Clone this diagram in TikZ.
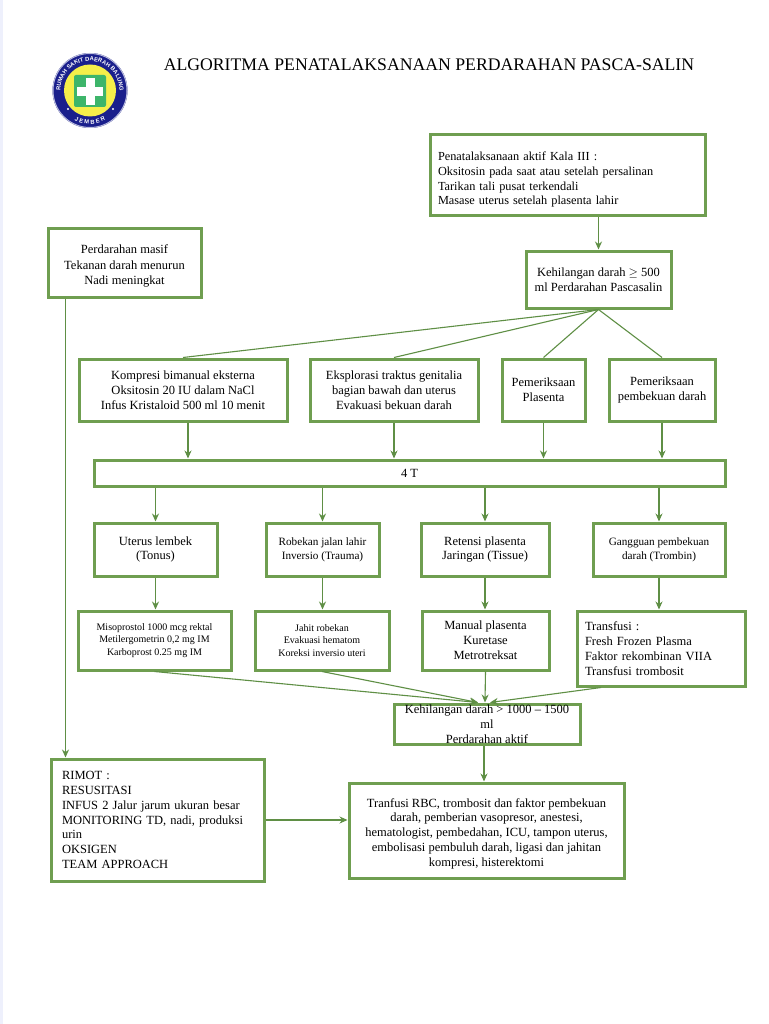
\documentclass[tikz,border=0pt]{standalone}
\usepackage{fontspec}
\setmainfont{Liberation Serif}
\newfontfamily\logofont{Liberation Sans}
\usetikzlibrary{arrows.meta,decorations.text}
\definecolor{boxgreen}{HTML}{6F9E50}
\definecolor{arrowgreen}{HTML}{5F8F45}
\definecolor{logoblue}{HTML}{1A1F8C}
\definecolor{logoyellow}{HTML}{F5EE4A}
\definecolor{logogreen}{HTML}{3DB56A}
\definecolor{stripcol}{HTML}{EEF0FC}
\newcommand{\sizeA}{\fontsize{12.5}{14.8}\selectfont}
\newcommand{\sizeB}{\fontsize{11.2}{14}\selectfont}
\newcommand{\sizeC}{\fontsize{10}{12.3}\selectfont}
\newcommand{\lowered}[1]{\rule{0pt}{#1pt}}
\tikzset{
	box/.style={shape=rectangle, draw=boxgreen, line width=3pt, inner sep=0pt, align=center, font=\sizeA},
	line/.style={draw=arrowgreen, line width=1.1pt},
	arrow/.style={line, -{Stealth[length=8pt,width=7pt]}},
	logotext/.style={postaction={decorate, decoration={text along path, text align=center, text={|\fontsize{5.8}{6}\selectfont\logofont\bfseries\color{white}|#1}}}}
}
\begin{document}
\begin{tikzpicture}[x=1pt, y=-1pt]
	\useasboundingbox (0,0) rectangle (768,1024);
	\fill[white] (0,0) rectangle (768,1024);
	\fill[stripcol] (0,0) rectangle (3,1024);

	% logo
	\fill[logoblue] (90,90.5) circle (37.5);
	\draw[white!70!logoblue, line width=1pt] (90,90.5) circle (37);
	\fill[logoyellow] (90,90.5) circle (26);
	\fill[logogreen, rounded corners=2pt] (74,75) rectangle (106,107);
	\fill[white] (86,78) rectangle (95,105);
	\fill[white] (77,87) rectangle (103,96);
	\fill[white] (68,109) circle (1.2);
	\fill[white] (113,109) circle (1.2);
	\begin{scope}[shift={(90,90.5)}, y=1pt]
		\path[logotext={RUMAH SAKIT DAERAH BALUNG}] (210:29.5) arc[start angle=210, end angle=-30, radius=29.5];
		\path[logotext={J E M B E R}] (225:33.5) arc[start angle=225, end angle=315, radius=33.5];
	\end{scope}

	\draw (429,64.5) node[font=\fontsize{17.7}{20}\selectfont](title){ALGORITMA PENATALAKSANAAN PERDARAHAN PASCA-SALIN};

	\draw (567.5,175.5) node[box, minimum width=275, minimum height=81, align=left, text width=259, font=\fontsize{12.3}{14.7}\selectfont](kala){\lowered{17}Penatalaksanaan aktif Kala III :\\Oksitosin pada saat atau setelah persalinan\\Tarikan tali pusat terkendali\\Masase uterus setelah plasenta lahir};
	\draw (598.5,279.5) node[box, minimum width=145, minimum height=57](darah){Kehilangan darah $\geq$ 500\\ml Perdarahan Pascasalin};
	\draw (124.5,263) node[box, minimum width=153, minimum height=68, font=\fontsize{12.5}{15.5}\selectfont](masif){\lowered{15}Perdarahan masif\\Tekanan darah menurun\\Nadi meningkat};

	\draw (183,390) node[box, minimum width=208, minimum height=62](kompresi){Kompresi bimanual eksterna\\Oksitosin 20 IU dalam NaCl\\Infus Kristaloid 500 ml 10 menit};
	\draw (394,390) node[box, minimum width=168, minimum height=62](eksplorasi){Eksplorasi traktus genitalia\\bagian bawah dan uterus\\Evakuasi bekuan darah};
	\draw (543.5,390) node[box, minimum width=83, minimum height=62](plasenta){Pemeriksaan\\Plasenta};
	\draw (662,390) node[box, minimum width=106, minimum height=62](beku){Pemeriksaan\\pembekuan darah};

	\draw (409.5,473) node[box, minimum width=631, minimum height=26](tt){4 T};

	\draw (155.5,549.5) node[box, minimum width=123, minimum height=53](uterus){Uterus lembek\\(Tonus)};
	\draw (322.5,549.5) node[box, minimum width=113, minimum height=53, font=\sizeB](robekan){Robekan jalan lahir\\Inversio (Trauma)};
	\draw (485,549.5) node[box, minimum width=128, minimum height=53](retensi){Retensi plasenta\\Jaringan (Tissue)};
	\draw (659,549.5) node[box, minimum width=132, minimum height=53, font=\sizeB](gangguan){Gangguan pembekuan\\darah (Trombin)};

	\draw (154.5,640.5) node[box, minimum width=153, minimum height=59, font=\sizeC](miso){Misoprostol 1000 mcg rektal\\Metilergometrin 0,2 mg IM\\Karboprost 0.25 mg IM};
	\draw (322,640.5) node[box, minimum width=134, minimum height=59, font=\sizeC](jahit){Jahit robekan\\Evakuasi hematom\\Koreksi inversio uteri};
	\draw (485.5,640.5) node[box, minimum width=127, minimum height=59](manual){Manual plasenta\\Kuretase\\Metrotreksat};
	\draw (661,648.5) node[box, minimum width=168, minimum height=75, align=left, text width=152](transfusi){Transfusi :\\Fresh Frozen Plasma\\Faktor rekombinan VIIA\\Transfusi trombosit};

	\draw (487,724) node[box, minimum width=186, minimum height=40](aktif){Kehilangan darah > 1000 -- 1500\\ml\\Perdarahan aktif};
	\draw (157.5,820) node[box, minimum width=213, minimum height=122, align=left, text width=191](rimot){RIMOT :\\RESUSITASI\\INFUS 2 Jalur jarum ukuran besar\\MONITORING TD, nadi, produksi\\urin\\OKSIGEN\\TEAM APPROACH};
	\draw (486.5,830.5) node[box, minimum width=275, minimum height=95](rbc){\lowered{15}Tranfusi RBC, trombosit dan faktor pembekuan\\darah, pemberian vasopresor, anestesi,\\hematologist, pembedahan, ICU, tampon uterus,\\embolisasi pembuluh darah, ligasi dan jahitan\\kompresi, histerektomi};

	\draw [arrow](kala.south -| darah.north) -- (darah.north);
	\draw [line](darah.south) -- (kompresi.north);
	\draw [line](darah.south) -- (eksplorasi.north);
	\draw [line](darah.south) -- (plasenta.north);
	\draw [line](darah.south) -- (beku.north);

	\draw [arrow]([xshift=5]kompresi.south) -- ([xshift=5]kompresi.south |- tt.north);
	\draw [arrow](eksplorasi.south) -- (eksplorasi.south |- tt.north);
	\draw [arrow](plasenta.south) -- (plasenta.south |- tt.north);
	\draw [arrow](beku.south) -- (beku.south |- tt.north);

	\draw [arrow](uterus.north |- tt.south) -- (uterus.north);
	\draw [arrow](robekan.north |- tt.south) -- (robekan.north);
	\draw [arrow](retensi.north |- tt.south) -- (retensi.north);
	\draw [arrow](gangguan.north |- tt.south) -- (gangguan.north);

	\draw [arrow](uterus.south) -- (uterus.south |- miso.north);
	\draw [arrow](robekan.south) -- (robekan.south |- jahit.north);
	\draw [arrow](retensi.south) -- (retensi.south |- manual.north);
	\draw [arrow](gangguan.south) -- (gangguan.south |- transfusi.north);

	\draw [arrow](miso.south) -- ([xshift=-9]aktif.north);
	\draw [arrow](jahit.south) -- ([xshift=-9]aktif.north);
	\draw [arrow](manual.south) -- ([xshift=-2]aktif.north);
	\draw [arrow]([xshift=-60]transfusi.south) -- ([xshift=3]aktif.north);

	\draw [arrow]([xshift=-3]aktif.south) -- ([xshift=-3]aktif.south |- rbc.north);
	\draw [arrow]([xshift=16]rimot.north west |- masif.south) -- ([xshift=16]rimot.north west);
	\draw [arrow](rimot.east) -- (rimot.east -| rbc.west);
\end{tikzpicture}
\end{document}
